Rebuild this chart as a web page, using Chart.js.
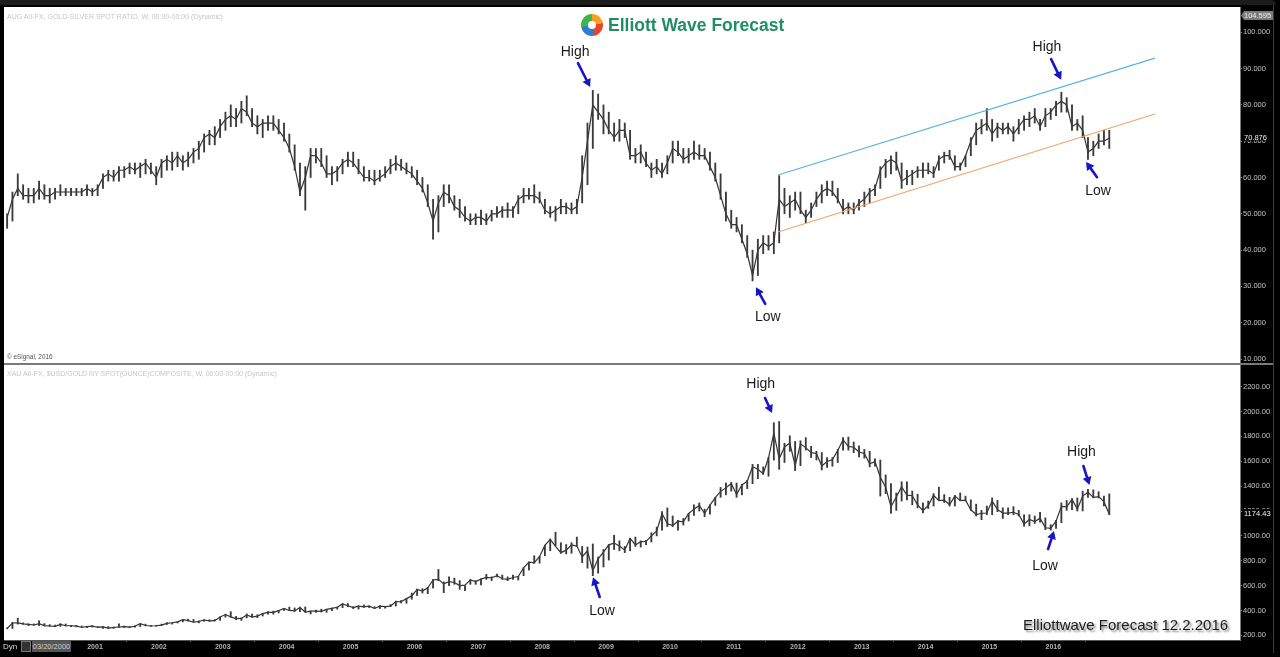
<!DOCTYPE html>
<html><head><meta charset="utf-8">
<script src="https://cdn.jsdelivr.net/npm/chart.js@4.4.1/dist/chart.umd.min.js"></script>
<style>
html,body{margin:0;padding:0;background:#000;width:1280px;height:657px;overflow:hidden;font-family:"Liberation Sans",Arial,sans-serif;}
.abs{position:absolute;}
#c1{position:absolute;left:0;top:0;}
#c2{position:absolute;left:0;top:364px;}
.hdr{position:absolute;left:7px;font-size:7px;color:#c6c6c6;white-space:nowrap;line-height:9px;}
</style></head><body>
<div class="abs" style="left:0;top:0;width:1276px;height:5px;background:#1c1c1c;border-top-right-radius:6px;"></div>
<canvas id="c1" width="1280" height="364"></canvas>
<canvas id="c2" width="1280" height="293"></canvas>
<div class="abs" style="left:4px;top:363px;width:1269px;height:2px;background:#7a7a7a;"></div>
<div class="abs" style="left:1273px;top:5px;width:1px;height:648px;background:#3a3a3a;"></div>
<div class="hdr" style="top:11.5px;">AUG A0-FX, GOLD-SILVER SPOT RATIO, W, 00:00-00:00 (Dynamic)</div>
<div class="hdr" style="top:368.5px;">XAU A0-FX, $USD/GOLD NY SPOT(OUNCE)COMPOSITE, W, 00:00-00:00 (Dynamic)</div>
<div class="abs" style="left:7px;top:353px;font-size:6.4px;color:#555;white-space:nowrap;">© eSignal, 2016</div>
<div class="abs" style="left:581px;top:14px;width:22px;height:22px;border-radius:50%;background:conic-gradient(#f6a21c 0deg 80deg,#e5452b 80deg 170deg,#2e7fd2 170deg 260deg,#3cb54a 260deg 360deg);"></div>
<div class="abs" style="left:588px;top:21px;width:8px;height:8px;border-radius:50%;background:#fff;"></div>
<div class="abs" style="left:608px;top:14px;font-size:17.5px;font-weight:bold;color:#1f8f62;white-space:nowrap;line-height:22px;">Elliott Wave Forecast</div>
<div class="abs" style="left:1023px;top:615px;font-size:15px;color:#1a1a1a;white-space:nowrap;text-shadow:2px 2px 2px #8a8a8a;line-height:20px;">Elliottwave Forecast 12.2.2016</div>
<div class="abs" style="left:3px;top:641px;font-size:8px;color:#dcdcdc;line-height:11px;">Dyn</div>
<div class="abs" style="left:21px;top:641px;width:8px;height:9px;border:1px solid #777;background:#333;"></div>
<div class="abs" style="left:32px;top:641px;width:39px;height:11px;background:#555;font-size:7.5px;color:#d0d0d0;line-height:11px;text-align:center;">03/20/2000</div>
<script>
// first month of data: Aug 1999, one bar per month
const firstYear = 1999, firstMonth = 8;

// Gold / silver ratio (monthly range and close)
const ratioLo = [46,48,55,54,53,
53,54,54,53,54,55,55,55,55,55,55,55,
55,57,59,59,59,60,61,61,60,61,61,58,
60,62,62,63,62,63,64,65,67,69,69,71,
73,74,74,75,77,74,72,71,73,73,72,70,
67,62,55,51,60,64,63,60,58,59,61,63,
63,61,59,59,58,59,60,61,62,62,61,60,
58,56,52,43,45,52,53,51,49,48,47,47,
47,47,48,49,49,49,49,50,53,54,53,53,
50,49,48,50,50,50,50,53,58,68,76,72,
72,70,70,71,65,64,64,63,60,61,60,61,
64,66,64,64,65,65,65,62,59,54,48,46,
45,42,38,31.5,33,39,40,39,42,50,49,51,
50,47.5,49,52,53,55,55,53,50,50,50,51,
52,53,55,57,60,61,62,57,58,58,60,60,
61,60,62,64,65,62,62,63,66,69,72,73,
70,71,72,72,70,72,73,74,75,73,74,76,
77,78,78,73,73,71,65,66,68,69,68];
const ratioHi = [50,56,61,58,57,
57,59,58,57,57,58,57,57,57,57,58,57,
58,61,62,62,63,63,64,64,64,65,64,63,
65,66,67,67,66,67,68,70,72,73,74,76,
78,80,79,81,82.5,79,77,76,77,77,76,75,
72,69,64,63,68,68,68,66,63,63,65,67,
67,65,63,62,62,62,63,65,66,65,64,63,
62,60,58,54,55,58,58,55,54,52,50,50,
51,50,51,52,52,53,52,55,57,57,58,56,
54,52,52,54,53,53,54,66,75,84,83,80,
78,75,76,75,73,68,69,67,64,65,64,66,
70,70,68,68,70,69,68,67,64,61,56,51,
49,47,44,40,43,44,44,45,60.5,57,55,56,
56,51,53,56,58,59,59,57,54,53,53,54,
56,57,58,63,65,66,67,64,62,62,63,64,
64,63,66,67,67.5,66,64,66,71,75,76,79,
76,75,75,75,74,76,77,78,79,76,79,79,
81,83.5,82,80,76,77,71,70,72,73,73];
const ratioClose = [49,54,57,55,55,
55,57,55,55,56,56,56,56,56,56,57,56,
57,60,61,60,62,62,63,62,63,64,62,60,
64,65,64,66,64,65,67,68,71,72,71,74,
76,77,76,79,78,75,74,75,75,75,73,71,
68,63,56,60,66,66,64,61,61,62,64,65,
64,62,60,60,59,60,61,63,64,63,62,61,
59,57,53,48,53,56,55,52,51,49,48,49,
49,48,50,50,51,51,51,54,55,55,55,54,
51,50,51,52,52,51,52,60,70,80,78,76,
73,71,73,73,66,66,67,64,62,63,61,64,
68,67,65,66,67,66,66,63,60,55,50,47,
47,43,39,33,40,42,41,42,54,52,53,54,
51,49,51,54,56,57,56,54,51,52,51,53,
54,56,57,62,64,65,64,59,60,61,62,62,
62,61,65,66,66,63,63,66,70,73,74,75,
72,74,73,74,72,74,76,76,77,74,77,78,
80,81,80,74,75,73,67,68,70,70,70.876];

// Gold price USD (monthly range and close)
const goldLo = [252,255,290,288,278,
281,278,275,272,270,272,275,270,268,265,262,266,
262,256,255,255,263,264,263,265,270,276,272,273,
277,287,290,299,308,315,305,300,312,312,315,320,
346,345,325,320,340,345,342,355,370,370,380,400,
400,392,390,385,372,385,387,385,398,410,422,430,
415,411,425,423,415,415,418,430,435,460,458,490,
520,540,535,580,640,543,600,610,570,560,610,610,
605,650,640,670,650,640,650,645,680,725,780,780,
840,880,920,860,855,860,915,785,740,680,700,750,
805,890,880,865,880,915,910,930,950,1000,1045,1075,
1075,1045,1087,1120,1165,1200,1155,1175,1245,1310,1330,1360,
1310,1330,1380,1420,1460,1495,1480,1610,1535,1590,1680,1525,
1565,1690,1630,1610,1530,1550,1560,1590,1690,1690,1670,1635,
1625,1555,1560,1320,1340,1180,1205,1280,1290,1250,1225,1185,
1220,1240,1285,1268,1240,1240,1285,1280,1205,1160,1130,1170,
1170,1195,1140,1170,1170,1160,1077,1080,1100,1110,1050,1046,
1060,1105,1205,1210,1200,1200,1310,1305,1305,1240,1170];
const goldHi = [260,305,338,300,292,
292,317,294,286,283,294,291,281,280,275,271,277,
270,270,270,265,292,275,270,278,294,290,280,281,
290,302,301,310,327,330,328,315,326,325,327,348,
370,390,352,340,372,370,365,375,390,395,400,417,
427,420,427,428,395,402,410,410,420,428,455,456,
430,437,445,437,430,440,430,448,475,480,498,540,
572,575,585,650,730,630,670,660,640,600,648,640,
655,690,670,692,685,670,685,675,745,790,840,835,
925,975,1030,945,930,945,990,915,910,935,830,890,
930,1005,960,915,980,990,960,965,1025,1070,1195,1225,
1160,1125,1140,1180,1250,1265,1215,1250,1310,1390,1425,1430,
1425,1415,1447,1575,1575,1555,1632,1910,1920,1745,1805,1760,
1765,1790,1720,1680,1670,1630,1630,1695,1790,1795,1755,1725,
1695,1680,1620,1610,1490,1420,1345,1435,1435,1360,1335,1265,
1280,1340,1392,1332,1310,1325,1345,1320,1290,1255,1205,1240,
1305,1285,1225,1225,1235,1205,1170,1170,1160,1190,1145,1090,
1125,1265,1285,1300,1305,1360,1375,1370,1355,1320,1338];
const goldClose = [255,299,300,292,288,
283,293,278,275,272,288,277,277,274,265,270,273,
265,267,258,263,267,270,266,273,293,279,275,277,
282,296,301,308,326,318,305,312,323,316,318,347,
367,348,334,336,364,346,354,375,385,384,398,416,
400,396,424,387,394,394,392,408,416,426,452,438,
423,434,428,435,416,434,430,434,472,470,495,517,
569,556,582,645,650,614,632,625,600,604,646,632,
652,666,663,679,655,650,665,673,743,789,783,834,
923,971,916,865,885,928,918,830,880,720,815,870,
928,942,918,885,979,927,953,955,1000,1040,1180,1097,
1083,1118,1113,1180,1215,1245,1180,1248,1307,1358,1386,1421,
1333,1410,1439,1556,1536,1500,1628,1826,1620,1715,1746,1565,
1740,1710,1670,1663,1562,1598,1614,1687,1773,1720,1713,1675,
1663,1580,1597,1472,1392,1234,1312,1395,1327,1323,1250,1202,
1244,1326,1284,1288,1250,1322,1283,1287,1210,1172,1182,1184,
1280,1213,1183,1183,1190,1172,1095,1132,1115,1142,1065,1061,
1118,1238,1234,1293,1215,1320,1350,1309,1316,1275,1174.43];

const yearTicks = [2001,2002,2003,2004,2005,2006,2007,2008,2009,2010,2011,2012,2013,2014,2015,2016];
const ratioTicks = [10,20,30,40,50,60,70,80,90,100];
const goldTicks = [200,400,600,800,1000,1200,1400,1600,1800,2000,2200];
const ratioScaleHigh = 104.595;

// trend channel on the ratio (time, value)
const channelUpper = [[2011.69, 60.7],[2017.59, 92.9]];
const channelLower = [[2011.69, 45.0],[2017.59, 77.5]];

// annotations: label position, arrow tail, arrow head (time, value)
const ratioNotes = [
  {text:'High', at:[2008.514,94.6], tail:[2008.56,91.5], head:[2008.75,84.9]},
  {text:'Low',  at:[2011.53,21.4],  tail:[2011.49,25.2], head:[2011.345,29.8]},
  {text:'High', at:[2015.90,95.95], tail:[2015.965,92.6], head:[2016.122,86.9]},
  {text:'Low',  at:[2016.70,56.3],  tail:[2016.683,60.1], head:[2016.511,64.3]}
];
const goldNotes = [
  {text:'High', at:[2011.42,2222],  tail:[2011.487,2109], head:[2011.597,1988]},
  {text:'Low',  at:[2008.936,395],  tail:[2008.90,508],  head:[2008.795,668]},
  {text:'Low',  at:[2015.87,757],   tail:[2015.917,894], head:[2016.01,1039]},
  {text:'High', at:[2016.44,1675],  tail:[2016.47,1562], head:[2016.565,1410]}
];

const xMin = 1999.576, xMax = 2018.921;
const tOf = i => firstYear + (firstMonth - 1 + i + 0.5) / 12;
const barData = (lo, hi) => lo.map((l, i) => ({x: tOf(i), y: [l, hi[i]]}));
const lineData = c => c.map((v, i) => ({x: tOf(i), y: v}));
const ptData = arr => arr.map(p => ({x: p[0], y: p[1]}));
const FONT = '"Liberation Sans", Arial, sans-serif';

const bgPlugin = {id:'panelBg', beforeDraw(chart){
  const {ctx, chartArea:a} = chart; ctx.save(); ctx.fillStyle = '#fff';
  ctx.fillRect(a.left, a.top, a.right - a.left, a.bottom - a.top); ctx.restore();
}};
function drawArrow(ctx, x1, y1, x2, y2){
  const ang = Math.atan2(y2 - y1, x2 - x1), hl = 8, hw = 4.5;
  const bx = x2 - hl * Math.cos(ang), by = y2 - hl * Math.sin(ang);
  ctx.strokeStyle = '#1616c4'; ctx.fillStyle = '#1616c4'; ctx.lineWidth = 2.6; ctx.lineCap = 'round';
  ctx.beginPath(); ctx.moveTo(x1, y1); ctx.lineTo(bx, by); ctx.stroke();
  ctx.beginPath(); ctx.moveTo(x2, y2);
  ctx.lineTo(bx + hw * Math.sin(ang), by - hw * Math.cos(ang));
  ctx.lineTo(bx - hw * Math.sin(ang), by + hw * Math.cos(ang));
  ctx.closePath(); ctx.fill();
}
const notePlugin = {id:'notes', afterDatasetsDraw(chart, args, opts){
  const xs = chart.scales.x, ys = chart.scales.y, ctx = chart.ctx;
  ctx.save();
  (opts.items || []).forEach(n => {
    ctx.font = '14px ' + FONT; ctx.fillStyle = '#1a1a1a'; ctx.textAlign = 'center'; ctx.textBaseline = 'middle';
    ctx.fillText(n.text, xs.getPixelForValue(n.at[0]), ys.getPixelForValue(n.at[1]));
    drawArrow(ctx, xs.getPixelForValue(n.tail[0]), ys.getPixelForValue(n.tail[1]),
                   xs.getPixelForValue(n.head[0]), ys.getPixelForValue(n.head[1]));
  });
  ctx.restore();
}};
const lastPlugin = {id:'lastVal', afterDraw(chart, args, opts){
  const ys = chart.scales.y, ctx = chart.ctx, x0 = chart.chartArea.right;
  ctx.save();
  (opts.items || []).forEach(it => {
    const py = ys.getPixelForValue(it.value);
    if (it.flag) {
      ctx.fillStyle = '#7a7a7a'; ctx.beginPath();
      ctx.moveTo(x0 + 1, py); ctx.lineTo(x0 + 4, py - 4.5); ctx.lineTo(x0 + 33, py - 4.5);
      ctx.lineTo(x0 + 33, py + 4.5); ctx.lineTo(x0 + 4, py + 4.5); ctx.closePath(); ctx.fill();
      ctx.fillStyle = '#f2f2f2';
    } else {
      ctx.fillStyle = '#000'; ctx.fillRect(x0 + 2, py - 5, 31, 7.5); ctx.fillStyle = '#f0f0f0';
    }
    ctx.font = '7.5px ' + FONT; ctx.textAlign = 'left'; ctx.textBaseline = 'middle';
    ctx.fillText(it.text, x0 + 4, py);
  });
  ctx.restore();
}};

function noPad(s){ s.paddingTop = 0; s.paddingBottom = 0; s.paddingLeft = 0; s.paddingRight = 0; }

function yScale(min, max, ticks, dec){
  return {type:'linear', position:'right', min:min, max:max,
    afterFit(s){ s.width = 32; noPad(s); },
    afterBuildTicks(s){ s.ticks = ticks.map(v => ({value: v})); },
    grid:{drawOnChartArea:false, drawTicks:true, tickLength:2, color:'#888'},
    border:{color:'#777'},
    ticks:{color:'#c4c4c4', font:{size:7.5, family:FONT}, padding:1, callback: v => Number(v).toFixed(dec)}};
}

const baseOpts = (padding, notes, last, xScale, y) => ({
  responsive:false, animation:false, devicePixelRatio:1, events:[],
  layout:{padding:padding},
  plugins:{legend:{display:false}, tooltip:{enabled:false}, notes:{items:notes}, lastVal:{items:last}},
  scales:{x:xScale, y:y}
});

new Chart(document.getElementById('c1'), {
  type:'bar',
  data:{datasets:[
    {type:'line', data:ptData(channelUpper), borderColor:'#5ab2e2', borderWidth:1.2, pointRadius:0, order:0},
    {type:'line', data:ptData(channelLower), borderColor:'#f0a46c', borderWidth:1.2, pointRadius:0, order:0},
    {type:'bar', data:barData(ratioLo, ratioHi), backgroundColor:'#3a3a3a', barThickness:1.2, order:1},
    {type:'line', data:lineData(ratioClose), borderColor:'#333', borderWidth:1.2, pointRadius:0, order:2}
  ]},
  options: baseOpts({left:4, top:7, right:8, bottom:1}, ratioNotes,
    [{value:ratioScaleHigh, text:ratioScaleHigh.toFixed(3), flag:true},
     {value:ratioClose[ratioClose.length-1], text:ratioClose[ratioClose.length-1].toFixed(3)}],
    {type:'linear', min:xMin, max:xMax, display:false, offset:false},
    yScale(8.9, 106.97, ratioTicks, 3)),
  plugins:[bgPlugin, notePlugin, lastPlugin]
});

new Chart(document.getElementById('c2'), {
  type:'bar',
  data:{datasets:[
    {type:'bar', data:barData(goldLo, goldHi), backgroundColor:'#3a3a3a', barThickness:1.2, order:1},
    {type:'line', data:lineData(goldClose), borderColor:'#333', borderWidth:1.2, pointRadius:0, order:2}
  ]},
  options: baseOpts({left:4, top:1, right:8, bottom:5}, goldNotes,
    [{value:goldClose[goldClose.length-1], text:goldClose[goldClose.length-1].toFixed(2)}],
    {type:'linear', min:xMin, max:xMax, offset:false, position:'bottom',
      afterFit(s){ s.height = 12; noPad(s); },
      afterBuildTicks(s){ s.ticks = yearTicks.map(v => ({value: v})); },
      grid:{drawOnChartArea:false, drawTicks:true, tickLength:2, color:'#666'},
      border:{color:'#555'},
      ticks:{color:'#b4b4b4', font:{size:7, weight:'bold', family:FONT}, padding:1, maxRotation:0, autoSkip:false, callback: v => String(v)}},
    yScale(162.2, 2374.6, goldTicks, 2)),
  plugins:[bgPlugin, notePlugin, lastPlugin]
});
</script>
</body></html>
